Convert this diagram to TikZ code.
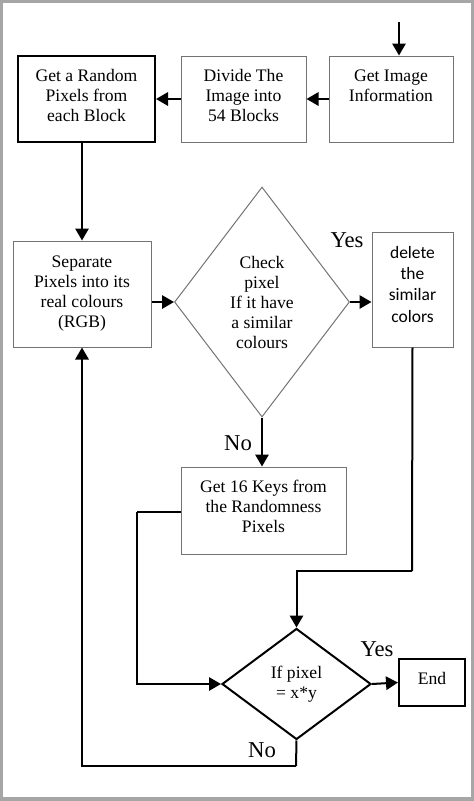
\documentclass[tikz,border=0pt]{standalone}
\usepackage{fontspec}
\setmainfont{Liberation Serif}
\newfontfamily\delfont{Carlito}
\usepackage{tikz}
\usetikzlibrary{shapes.geometric,arrows.meta}

\begin{document}
\begin{tikzpicture}[x=0.75pt, y=-0.75pt,
  box/.style={draw=black!55, line width=0.75pt, align=center, inner sep=0pt,
    font=\fontsize{13.2}{15}\selectfont},
  thickbox/.style={box, draw=black, line width=1.5pt},
  decision/.style={box, shape=diamond, shape aspect=1},
  arr/.style={line width=1.5pt, -{Triangle[length=9pt,width=10pt]}},
  line/.style={line width=1.5pt},
  lbl/.style={font=\fontsize{17}{19}\selectfont, inner sep=0pt}]
\useasboundingbox (0,0) rectangle (474,801);
\draw [black!35, line width=2.5pt] (1,1) rectangle (473,799);
% top row
\node [box, minimum width=93pt, minimum height=64.5pt] (img) at (391,99) {Get Image\\Information\\[5pt]};
\node [box, minimum width=93.75pt, minimum height=64.5pt] (divide) at (243.5,99) {Divide The\\Image into\\54 Blocks\\[-10pt]};
\node [thickbox, minimum width=102.75pt, minimum height=64.5pt] (rand) at (86.5,99) {Get a Random\\Pixels from\\each Block\\[-10pt]};
% middle row
\node [box, minimum width=103.5pt, minimum height=79.5pt] (sep) at (82,294) {Separate\\Pixels into its\\real colours\\(RGB)};
\node [decision, minimum width=131.25pt, minimum height=172.5pt] (check) at (262,302) {Check\\pixel\\If it have\\a similar\\colours};
\node [box, minimum width=60.75pt, minimum height=86.25pt, font=\delfont\fontsize{13.1}{16}\selectfont] (del) at (412.5,289.5) {delete\\the\\similar\\colors\\[-8pt]};
\node [box, minimum width=123.75pt, minimum height=65.25pt] (keys) at (263.5,510.5) {Get 16 Keys from\\the Randomness\\Pixels\\[-8pt]};
% bottom
\node [decision, draw=black, line width=1.5pt, minimum width=111.75pt, minimum height=83.25pt] (cond) at (296.5,684) {If pixel\\= x*y};
\node [thickbox, minimum width=49.5pt, minimum height=35.25pt] (end) at (432,682.5) {End\\[-9pt]};
% labels
\node [lbl] (yes1) at (347,240) {Yes};
\node [lbl] (no1) at (238,443) {No};
\node [lbl] (yes2) at (377,649) {Yes};
\node [lbl] (no2) at (262,750) {No};
% connectors
\coordinate (start) at (399,22);
\coordinate (j1) at (412,571);
\coordinate (j2) at (137,512);
\coordinate (j3) at (296,766);
\draw [arr] (start) -- (start |- img.north);
\draw [arr] (img.west) -- (divide.east);
\draw [arr] (divide.west) -- (rand.east);
\draw [arr] (sep.north |- rand.south) -- (sep.north);
\draw [arr] (sep.east |- check.west) -- (check.west);
\draw [arr] (check.east) -- (check.east -| del.west);
\draw [arr] (check.south) -- (check.south |- keys.north);
\draw [line] (del.south) -- (j1);
\draw [arr] (j1) -| (cond.north);
\draw [line] (keys.west |- j2) -- (j2);
\draw [arr] (j2) |- (cond.west);
\draw [arr] (cond.east) -- (end.west);
\draw [line] (cond.south) -- (j3);
\draw [arr] (j3) -| (sep.south);
\end{tikzpicture}
\end{document}
